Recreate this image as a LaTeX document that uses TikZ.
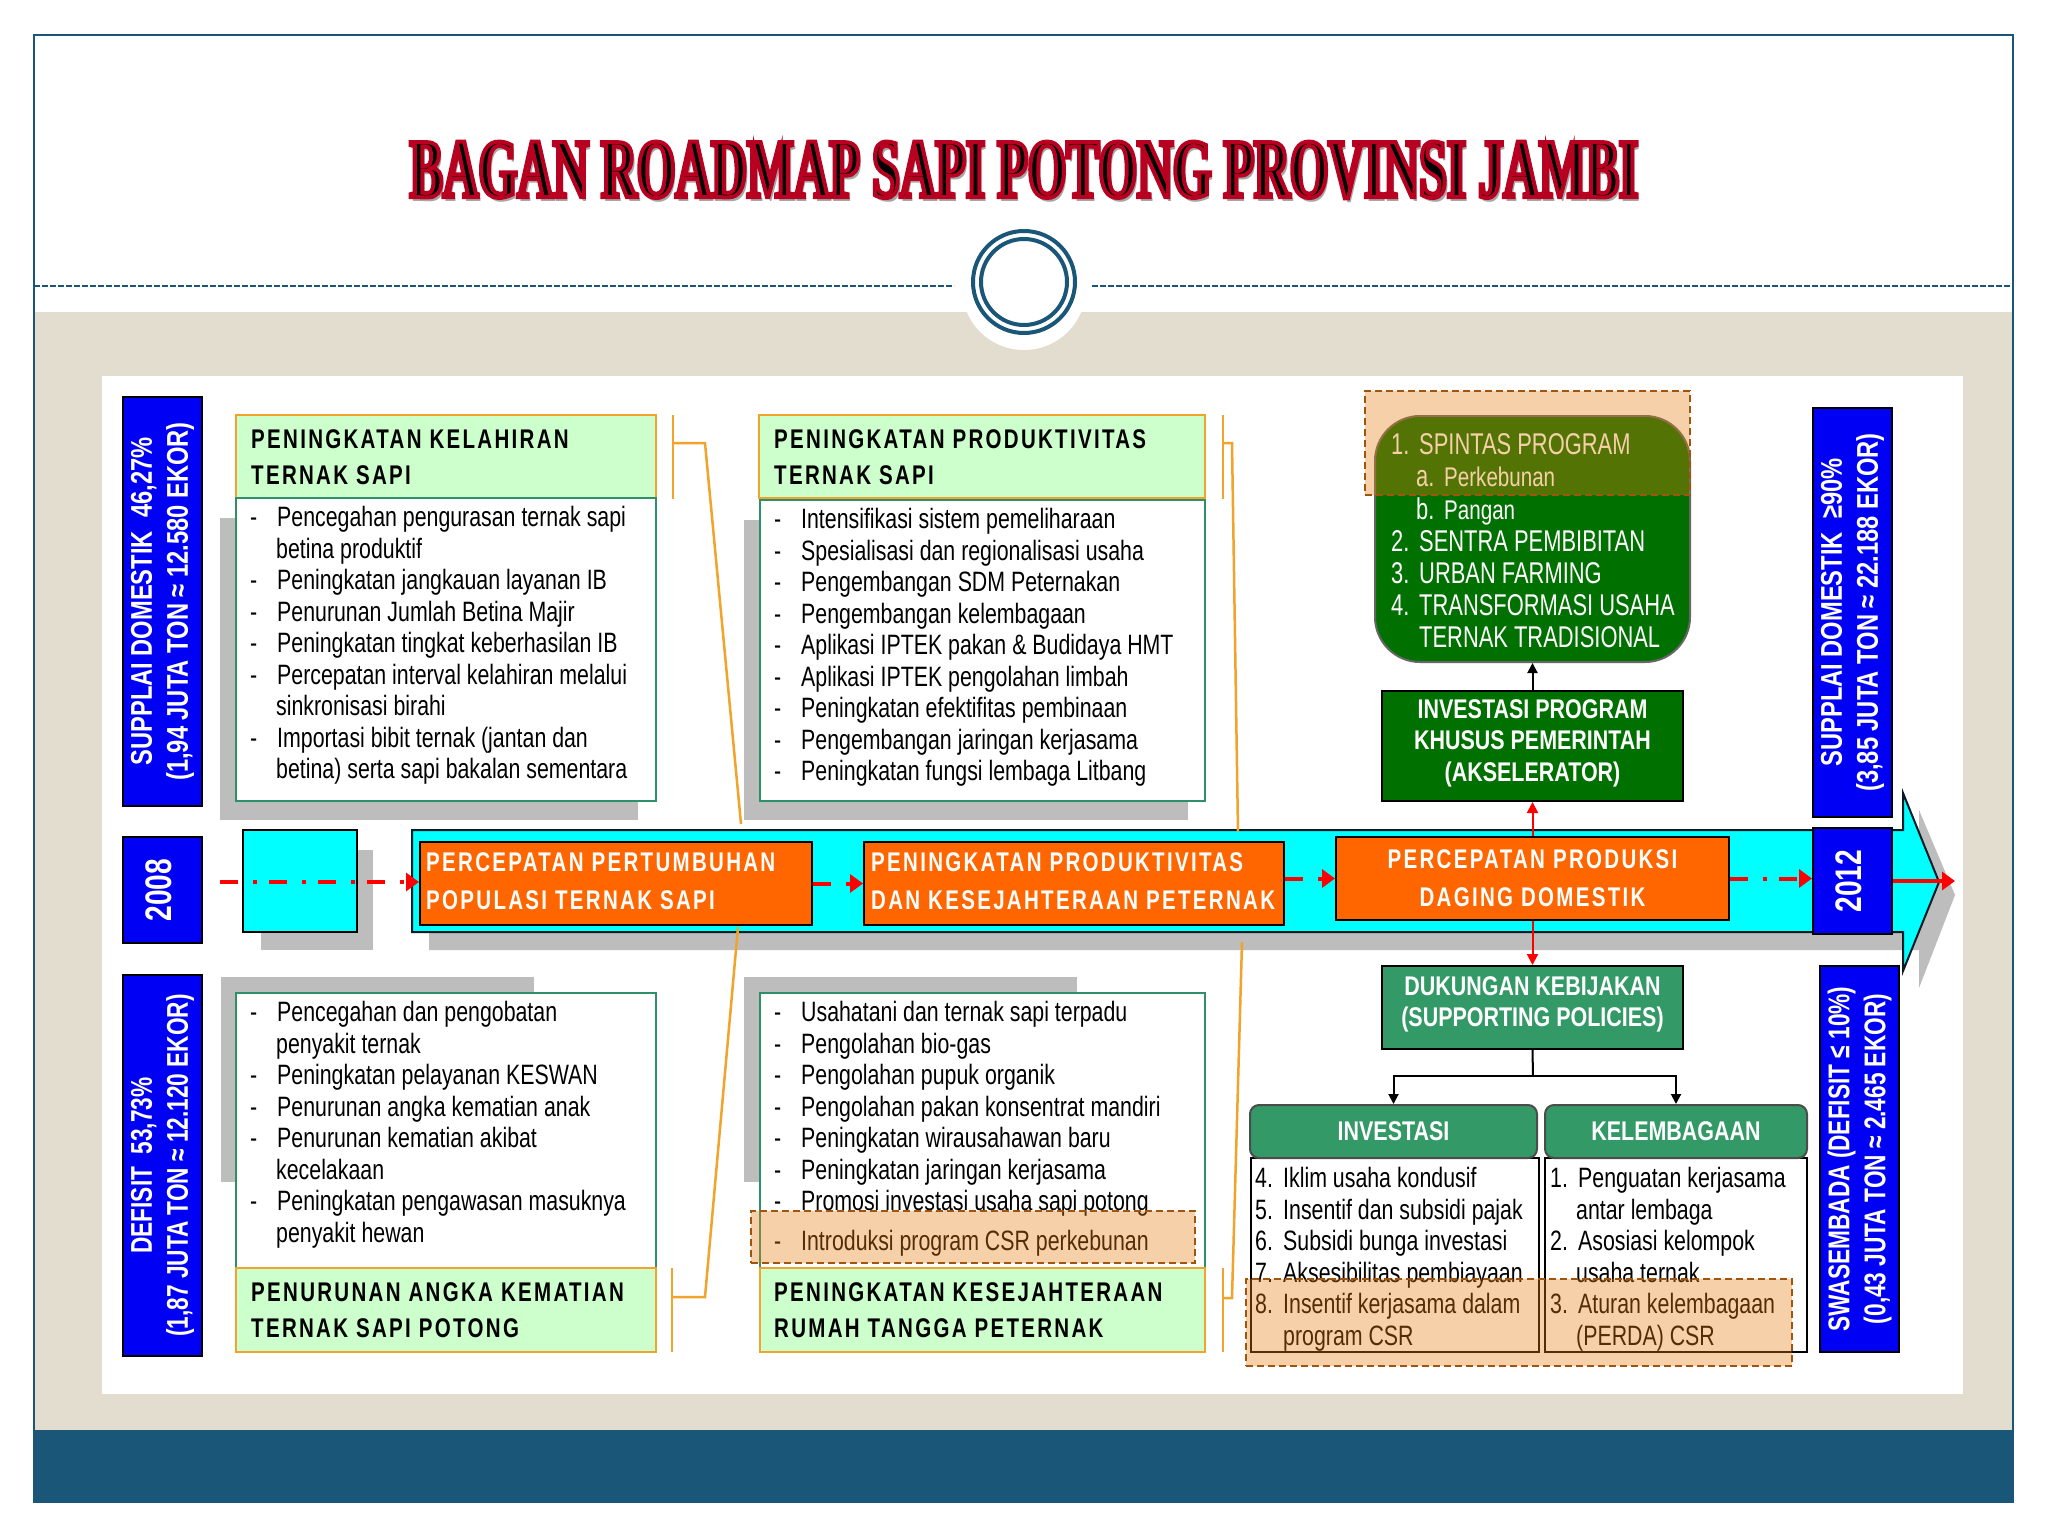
\documentclass[tikz,border=0pt]{standalone}
\usepackage{fontspec}
\usetikzlibrary{arrows.meta}
\setmainfont{Liberation Sans}
\newfontfamily\bodyf[FakeStretch=.762]{Liberation Sans}
\newfontfamily\headf[FakeStretch=.76,LetterSpace=8.5]{Liberation Sans Bold}
\newfontfamily\greenf[FakeStretch=.795]{Liberation Sans Bold}
\newfontfamily\vertf[FakeStretch=.79]{Liberation Sans Bold}
\newfontfamily\vertg[FakeStretch=.755]{Liberation Sans Bold}
\newfontfamily\yearf[FakeStretch=.76]{Liberation Sans Bold}
\newfontfamily\progf[FakeStretch=.73]{Liberation Sans}
\newfontfamily\titlef[FakeStretch=.59]{Liberation Serif Bold}
\definecolor{navy}{HTML}{1A5678}
\definecolor{beige}{HTML}{E2DDCF}
\definecolor{bblue}{HTML}{0000F5}
\definecolor{shad}{HTML}{BDBDBD}
\definecolor{gborder}{HTML}{2F8F68}
\definecolor{oborder}{HTML}{F2A32C}
\definecolor{hfill}{HTML}{CCFFCC}
\definecolor{orfill}{HTML}{FF6600}
\definecolor{seagreen}{HTML}{339966}
\definecolor{dgreen}{HTML}{007000}
\definecolor{peach}{HTML}{E87D0E}
\definecolor{dashb}{HTML}{A0540C}
\definecolor{cyanbar}{HTML}{00FFFF}
\newcommand\bx[6]{\node[#1,inner sep=0pt,minimum width={#5-#3},minimum height={#6-#4}] (#2) at ({(#3+#5)/2},{(#4+#6)/2}) {};}
\newcommand\itm[1]{\strut\makebox[27pt][l]{-}#1}
\newcommand\cnt[1]{\strut\hspace*{26pt}#1}
\newcommand\num[2]{\strut\makebox[28pt][l]{#1}#2}
\tikzset{
  panelshadow/.style={fill=shad,draw=none},
  bodybox/.style={draw=gborder,fill=white,line width=2pt},
  headbox/.style={draw=oborder,fill=hfill,line width=2pt},
  bluebox/.style={draw=black,fill=bblue,line width=2pt},
  orbox/.style={draw=black,fill=orfill,line width=2pt},
  dgbox/.style={draw=black,fill=dgreen,line width=2pt},
  sgbox/.style={draw=black,fill=seagreen,line width=2pt},
  blackbox/.style={draw=black,fill=white,line width=2pt},
  csrbox/.style={draw=dashb,fill=peach,fill opacity=.36,draw opacity=1,line width=2pt,dash pattern=on 7pt off 4pt},
  bodytxt/.style={anchor=north west,inner sep=0pt,align=left,font=\bodyf\fontsize{28}{31.5}\selectfont},
  headtxt/.style={anchor=west,inner sep=0pt,align=left,font=\headf\fontsize{27}{36}\selectfont},
  ortxt/.style={inner sep=0pt,text=white,font=\headf\fontsize{27}{38}\selectfont},
  gtxt/.style={inner sep=0pt,text=white,align=center,font=\greenf\fontsize{27}{31.5}\selectfont},
  vtxt/.style={inner sep=0pt,text=white,align=center,rotate=90,font=\vertf\fontsize{30}{36}\selectfont},
  yeartxt/.style={inner sep=0pt,text=white,rotate=90,font=\yearf\fontsize{37}{37}\selectfont},
  orline/.style={draw=oborder,line width=2.5pt},
  redflow/.style={draw=red,line width=4pt,dash pattern=on 18pt off 15pt on 4pt off 12pt,-{Triangle[length=13pt,width=18pt]}},
  redarrow/.style={draw=red,line width=2pt,-{Triangle[length=11pt,width=11pt]}},
  blackarrow/.style={draw=black,line width=2pt,-{Triangle[length=10pt,width=10pt]}},
}
\begin{document}
\begin{tikzpicture}[x=1pt,y=-1pt]
\useasboundingbox (0,0) rectangle (2048,1536);
\fill[white] (0,0) rectangle (2048,1536);
% slide
\fill[beige] (34,312) rectangle (2013,1430);
\fill[navy] (34,1430) rectangle (2013,1502);
\draw[navy,line width=2pt] (34,35) rectangle (2013,1502);
\fill[white] (102,376) rectangle (1963,1394);
\fill[white] (1024,288) circle (62);
\draw[navy,line width=2pt,dash pattern=on 6pt off 2pt] (34,286) -- (954,286);
\draw[navy,line width=2pt,dash pattern=on 6pt off 2pt] (1092,286) -- (2013,286);
\draw[navy,line width=4pt] (1024,282) circle (51);
\draw[navy,line width=4pt] (1024,282) circle (43);
% title
\node[inner sep=0pt,text=gray!70,font=\titlef\fontsize{84}{84}\selectfont] (titleshadow) at (1027,174) {BAGAN ROADMAP SAPI POTONG PROVINSI JAMBI};
\node[inner sep=0pt,font=\titlef\fontsize{84}{84}\selectfont] (title) at (1024,170) {\special{pdf:code 2 Tr 4 w 0.72 0 0.13 RG}BAGAN ROADMAP SAPI POTONG PROVINSI JAMBI\special{pdf:code 0 Tr 1 w 0 0 0 RG}};
% shadows
\fill[shad] (220,518) rectangle (638,820);
\fill[shad] (744,520) rectangle (1188,820);
\fill[shad] (221,977) rectangle (534,1182);
\fill[shad] (744,977) rectangle (1077,1182);
\fill[shad] (261,850) rectangle (373,950);
\fill[shad] (429,850) -- (1919,850) -- (1919,810) -- (1955,895) -- (1919,988) -- (1919,950) -- (429,950) -- cycle;
% blue boxes
\bx{bluebox}{sup1}{123}{397}{202}{806}
\node[vtxt] (sup1t) at (sup1) {SUPPLAI DOMESTIK\ \ 46,27\%\\(1,94 JUTA TON ≈ 12.580 EKOR)};
\bx{bluebox}{y2008}{123}{837}{202}{943}
\node[yeartxt] (y2008t) at ([xshift=-4pt]y2008.center) {2008};
\bx{bluebox}{def1}{123}{975}{202}{1356}
\node[vtxt,font=\vertg\fontsize{30}{36}\selectfont] (def1t) at (def1) {DEFISIT\ \ 53,73\%\\(1,87 JUTA TON ≈ 12.120 EKOR)};
% bar
\bx{draw=black,fill=cyanbar,line width=2pt}{sq}{243}{830}{357}{932}
\draw[fill=cyanbar,draw=black!70!navy,line width=2pt] (412,830) -- (1903,830) -- (1903,793) -- (1939,882) -- (1903,971) -- (1903,932) -- (412,932) -- cycle;
\bx{orbox}{o1}{420}{842}{812}{925}
\bx{orbox}{o2}{864}{842}{1284}{925}
\bx{orbox}{o3}{1336}{837}{1729}{920}
\node[ortxt,anchor=west,align=left] (o1t) at (426,881) {PERCEPATAN PERTUMBUHAN\\POPULASI TERNAK SAPI};
\node[ortxt,anchor=west,align=left] (o2t) at (871,881) {PENINGKATAN PRODUKTIVITAS\\DAN KESEJAHTERAAN PETERNAK};
\node[ortxt,align=center] (o3t) at (o3) {PERCEPATAN PRODUKSI\\DAGING DOMESTIK};
\bx{bluebox}{sup2}{1813}{408}{1892}{817}
\node[vtxt] (sup2t) at (sup2) {SUPPLAI DOMESTIK\ \ ≥90\%\\(3,85 JUTA TON ≈ 22.188 EKOR)};
\bx{bluebox}{y2012}{1813}{828}{1892}{934}
\node[yeartxt] (y2012t) at ([xshift=-4pt]y2012.center) {2012};
\bx{bluebox}{sw}{1820}{966}{1899}{1352}
\node[vtxt,font=\vertg\fontsize{30}{36}\selectfont] (swt) at (sw) {SWASEMBADA (DEFISIT ≤ 10\%)\\(0,43 JUTA TON ≈ 2.465 EKOR)};
% flow
\coordinate (flowstart) at (220,882);
\coordinate (flowend) at (1955,881);
\draw[redflow] (flowstart) -- (flowstart -| o1.west);
\draw[redflow] (o1.east) -- (o2.west);
\draw[redflow] (o2.east |- o3.west) -- (o3.west);
\draw[redflow] (o3.east) -- (y2012.west |- o3.east);
\draw[draw=red,line width=4pt,-{Triangle[length=13pt,width=18pt]}] (y2012.east) -- (flowend);
% top boxes
\bx{headbox}{h1}{236}{415}{656}{498}
\bx{bodybox}{b1}{236}{498}{656}{801}
\node[headtxt] (h1t) at (251,457) {PENINGKATAN KELAHIRAN\\TERNAK SAPI};
\node[bodytxt] (b1t) at (250,504.5) {\itm{Pencegahan pengurasan ternak sapi}\\\cnt{betina produktif}\\\itm{Peningkatan jangkauan layanan IB}\\\itm{Penurunan Jumlah Betina Majir}\\\itm{Peningkatan tingkat keberhasilan IB}\\\itm{Percepatan interval kelahiran melalui}\\\cnt{sinkronisasi birahi}\\\itm{Importasi bibit ternak (jantan dan}\\\cnt{betina) serta sapi bakalan sementara}};
\bx{headbox}{h2}{759}{415}{1205}{498}
\bx{bodybox}{b2}{760}{500}{1205}{801}
\node[headtxt] (h2t) at (774,457) {PENINGKATAN PRODUKTIVITAS\\TERNAK SAPI};
\node[bodytxt] (b2t) at (774,506.5) {\itm{Intensifikasi sistem pemeliharaan}\\\itm{Spesialisasi dan regionalisasi usaha}\\\itm{Pengembangan SDM Peternakan}\\\itm{Pengembangan kelembagaan}\\\itm{Aplikasi IPTEK pakan \& Budidaya HMT}\\\itm{Aplikasi IPTEK pengolahan limbah}\\\itm{Peningkatan efektifitas pembinaan}\\\itm{Pengembangan jaringan kerjasama}\\\itm{Peningkatan fungsi lembaga Litbang}};
% lower boxes
\bx{bodybox}{b3}{236}{993}{656}{1268}
\bx{headbox}{h3}{236}{1268}{656}{1352}
\node[headtxt] (h3t) at (251,1310) {PENURUNAN ANGKA KEMATIAN\\TERNAK SAPI POTONG};
\node[bodytxt] (b3t) at (250,999.5) {\itm{Pencegahan dan pengobatan}\\\cnt{penyakit ternak}\\\itm{Peningkatan pelayanan KESWAN}\\\itm{Penurunan angka kematian anak}\\\itm{Penurunan kematian akibat}\\\cnt{kecelakaan}\\\itm{Peningkatan pengawasan masuknya}\\\cnt{penyakit hewan}};
\bx{bodybox}{b4}{760}{993}{1205}{1268}
\bx{headbox}{h4}{760}{1268}{1205}{1352}
\node[headtxt] (h4t) at (774,1310) {PENINGKATAN KESEJAHTERAAN\\RUMAH TANGGA PETERNAK};
\node[bodytxt] (b4t) at (774,999.5) {\itm{Usahatani dan ternak sapi terpadu}\\\itm{Pengolahan bio-gas}\\\itm{Pengolahan pupuk organik}\\\itm{Pengolahan pakan konsentrat mandiri}\\\itm{Peningkatan wirausahawan baru}\\\itm{Peningkatan jaringan kerjasama}\\\itm{Promosi investasi usaha sapi potong}};
\node[bodytxt] (b4c) at (774,1228) {\itm{Introduksi program CSR perkebunan}};
\bx{csrbox}{csr1}{751}{1211}{1195}{1263}
% brackets
\coordinate (k1) at (673,443);
\coordinate (k1a) at (705,443);
\coordinate (k1b) at (741,824);
\draw[orline] (673,415) -- (673,499);
\draw[orline] (k1) -- (k1a) -- (k1b);
\coordinate (k2) at (1223,443);
\coordinate (k2a) at (1232,443);
\coordinate (k2b) at (1238,832);
\draw[orline] (1223,415) -- (1223,499);
\draw[orline] (k2) -- (k2a) -- (k2b);
\coordinate (k3) at (672,1297);
\coordinate (k3a) at (705,1297);
\coordinate (k3b) at (738,927);
\draw[orline] (672,1268) -- (672,1352);
\draw[orline] (k3) -- (k3a) -- (k3b);
\coordinate (k4) at (1223,1298);
\coordinate (k4a) at (1232,1298);
\coordinate (k4b) at (1242,942);
\draw[orline] (1223,1268) -- (1223,1352);
\draw[orline] (k4) -- (k4a) -- (k4b);
% right column
\bx{draw=black!60,fill=dgreen,line width=2pt,rounded corners=45pt}{prog}{1375}{416}{1690}{662}
\node[bodytxt,text=white,font=\progf\fontsize{30}{32.2}\selectfont] (progt) at (1391,432) {\num{1.}{SPINTAS PROGRAM}\\\hspace*{25pt}\makebox[28pt][l]{a.}{\bodyf\fontsize{27}{32.2}\selectfont\strut Perkebunan}\\\hspace*{25pt}\makebox[28pt][l]{b.}{\bodyf\fontsize{27}{32.2}\selectfont\strut Pangan}\\\num{2.}{SENTRA PEMBIBITAN}\\\num{3.}{URBAN FARMING}\\\num{4.}{TRANSFORMASI USAHA}\\\cnt{\hspace*{2pt}TERNAK TRADISIONAL}};
\bx{csrbox}{csr2}{1365}{391}{1690}{495}
\bx{dgbox}{inv}{1382}{691}{1683}{801}
\node[gtxt,yshift=3pt] (invt) at (inv) {INVESTASI PROGRAM\\KHUSUS PEMERINTAH\\(AKSELERATOR)};
\draw[blackarrow] (inv.north) -- (prog.south);
\draw[redarrow] (o3.north) -- (inv.south);
\bx{sgbox}{duk}{1382}{966}{1683}{1049}
\node[gtxt,yshift=3pt] (dukt) at (duk) {DUKUNGAN KEBIJAKAN\\(SUPPORTING POLICIES)};
\draw[redarrow] (o3.south) -- (duk.north);
\bx{blackbox}{ib}{1251}{1158}{1539}{1352}
\bx{blackbox}{kb}{1545}{1158}{1807}{1352}
\bx{draw=black!70,fill=seagreen,line width=2pt,rounded corners=9pt}{ih}{1250}{1105}{1537}{1158}
\bx{draw=black!70,fill=seagreen,line width=2pt,rounded corners=9pt}{kh}{1545}{1105}{1807}{1158}
\node[gtxt] (iht) at (ih) {INVESTASI};
\node[gtxt] (kht) at (kh) {KELEMBAGAAN};
\coordinate (junc) at (1533,1076);
\draw[line width=2pt] (duk.south) -- (junc);
\draw[blackarrow] (junc) -| (ih.north);
\draw[blackarrow] (junc) -| (kh.north);
\node[bodytxt] (ibt) at (1255,1165.5) {\num{4.}{Iklim usaha kondusif}\\\num{5.}{Insentif dan subsidi pajak}\\\num{6.}{Subsidi bunga investasi}\\\num{7.}{Aksesibilitas pembiayaan}\\\num{8.}{Insentif kerjasama dalam}\\\cnt{\hspace*{2pt}program CSR}};
\node[bodytxt] (kbt) at (1550,1165.5) {\num{1.}{Penguatan kerjasama}\\\cnt{antar lembaga}\\\num{2.}{Asosiasi kelompok}\\\cnt{usaha ternak}\\\num{3.}{Aturan kelembagaan}\\\cnt{(PERDA) CSR}};
\bx{csrbox}{csr3}{1246}{1279}{1792}{1366}
\end{tikzpicture}
\end{document}
